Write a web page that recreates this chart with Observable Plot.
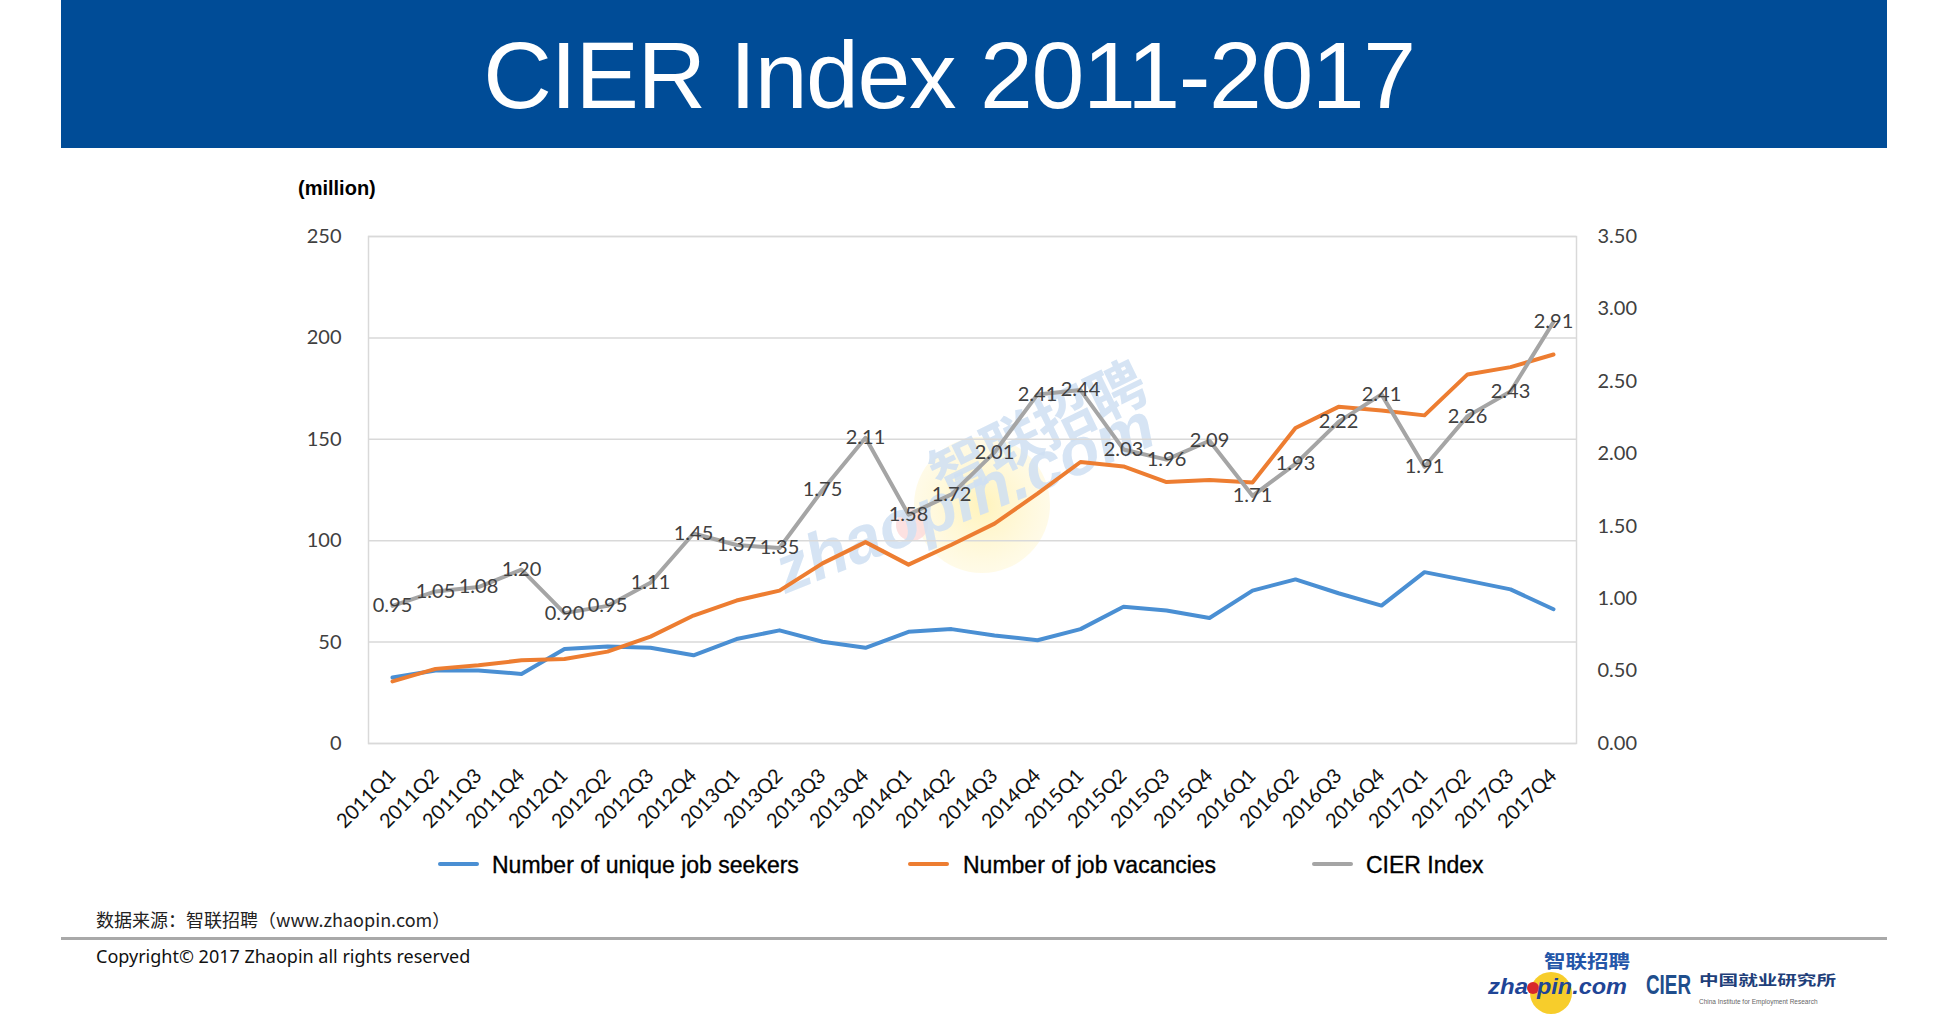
<!DOCTYPE html>
<html>
<head>
<meta charset="utf-8">
<script src="https://cdn.jsdelivr.net/npm/d3@7"></script>
<script src="https://cdn.jsdelivr.net/npm/@observablehq/plot@0.6"></script>
<style>
  html, body { margin: 0; padding: 0; background: #fff; }
  #page { position: relative; width: 1948px; height: 1020px; overflow: hidden; background: #fff; }
  .abs { position: absolute; white-space: nowrap; }
  #bar { left: 61px; top: 0; width: 1826px; height: 148px; background: #004C97; }
  #title { left: 0; top: 28px; width: 1898px; text-align: center; color: #fff;
           font-family: "Liberation Sans", Arial, sans-serif; font-size: 95px; line-height: 95px; letter-spacing: -1.4px; }
  #unit { left: 298px; top: 176px; font-family: "Liberation Sans", Arial, sans-serif; font-weight: bold; font-size: 20px; line-height: 24px; color: #000; }
  #chart { left: 0; top: 200px; }
  .leg-line { position: absolute; height: 4px; border-radius: 2px; top: 862px; width: 41px; }
  .leg-text { position: absolute; top: 851px; font-family: "Liberation Sans", Arial, sans-serif; font-size: 23px; line-height: 28px; color: #000; -webkit-text-stroke: 0.35px #000; }
  #src { left: 96px; top: 906px; font-family: "Noto Sans CJK SC", "Noto Sans", sans-serif; font-size: 18px; line-height: 26px; color: #222; }
  #sep { left: 61px; top: 937px; width: 1826px; height: 3px; background: #a9a9a9; }
  #copy { left: 96px; top: 943px; font-family: "Noto Sans", sans-serif; font-size: 18px; line-height: 26px; color: #111; }
  #wm { left: 0; top: 0; width: 1948px; height: 1020px; pointer-events: none; }
</style>
</head>
<body>
<div id="page">
  <div id="bar" class="abs"></div>
  <div id="title" class="abs">CIER Index 2011-2017</div>
  <svg id="wm" class="abs" width="1948" height="1020">
    <defs>
      <radialGradient id="yg" cx="50%" cy="50%" r="50%">
        <stop offset="0%" stop-color="#fff1b0" stop-opacity="0.85"/>
        <stop offset="100%" stop-color="#fff6d0" stop-opacity="0.5"/>
      </radialGradient>
    </defs>
    <circle cx="982" cy="505" r="68" fill="url(#yg)"/>
    <circle cx="912" cy="525" r="16" fill="#fbd9d9" opacity="0.8"/>
    <text x="1040" y="450" text-anchor="middle" transform="rotate(-26 1040 433)" font-family="Noto Sans CJK SC" font-weight="bold" font-size="58" fill="#cfe0f3" opacity="0.85">智联招聘</text>
    <text x="965" y="520" text-anchor="middle" transform="rotate(-22 965 500)" font-family="Liberation Sans" font-style="italic" font-weight="bold" font-size="66" fill="#cfe0f3" opacity="0.85">zhaopin.com</text>
  </svg>
  <div id="unit" class="abs">(million)</div>
  <div id="chart" class="abs"></div>

  <div class="leg-line" style="left:438px;background:#4A8FD3"></div>
  <div class="leg-text" style="left:492px">Number of unique job seekers</div>
  <div class="leg-line" style="left:908px;background:#ED7D31"></div>
  <div class="leg-text" style="left:963px">Number of job vacancies</div>
  <div class="leg-line" style="left:1312px;background:#A5A5A5"></div>
  <div class="leg-text" style="left:1366px">CIER Index</div>

  <div id="src" class="abs">数据来源：智联招聘（www.zhaopin.com）</div>
  <div id="sep" class="abs"></div>
  <div id="copy" class="abs">Copyright© 2017 Zhaopin all rights reserved</div>

  <svg class="abs" style="left:1440px;top:940px" width="508" height="80">
    <circle cx="111" cy="53" r="21" fill="#f6c814" opacity="0.9"/>
    <text x="104" y="28" font-family="Noto Sans CJK SC" font-weight="bold" font-size="18" fill="#2456a8" textLength="86" lengthAdjust="spacingAndGlyphs">智联招聘</text>
    <text x="48" y="54" font-family="Liberation Sans" font-weight="bold" font-style="italic" font-size="22" fill="#1f4596" textLength="40" lengthAdjust="spacingAndGlyphs">zha</text>
    <circle cx="93" cy="48" r="6" fill="#d8282a"/>
    <text x="97" y="54" font-family="Liberation Sans" font-weight="bold" font-style="italic" font-size="22" fill="#1f4596" textLength="90" lengthAdjust="spacingAndGlyphs">pin.com</text>
    <text x="206" y="54" font-family="Liberation Sans" font-weight="bold" font-size="27" fill="#1f4e8c" textLength="45" lengthAdjust="spacingAndGlyphs">CIER</text>
    <text x="259" y="45" font-family="Noto Sans CJK SC" font-weight="bold" font-size="14" fill="#1f3f7a" textLength="137" lengthAdjust="spacingAndGlyphs">中国就业研究所</text>
    <text x="259" y="64" font-family="Liberation Sans" font-size="6.5" fill="#666">China Institute for Employment Research</text>
  </svg>
</div>
<script>
const quarters = ["2011Q1","2011Q2","2011Q3","2011Q4","2012Q1","2012Q2","2012Q3","2012Q4",
  "2013Q1","2013Q2","2013Q3","2013Q4","2014Q1","2014Q2","2014Q3","2014Q4",
  "2015Q1","2015Q2","2015Q3","2015Q4","2016Q1","2016Q2","2016Q3","2016Q4",
  "2017Q1","2017Q2","2017Q3","2017Q4"];
const seekers = [32.5, 36, 36, 34.3, 46.6, 47.8, 47.2, 43.5,
  51.5, 55.8, 50.2, 47.2, 55.1, 56.4, 53.3, 50.9,
  56.4, 67.4, 65.6, 61.9, 75.4, 80.9, 74.1, 68,
  84.5, 80.3, 76, 66.2];
const vacancies = [30.6, 36.8, 38.6, 41, 41.7, 45.3, 52.7, 63.1,
  70.5, 75.4, 88.8, 99.3, 88.2, 98, 108.4, 123.2,
  138.8, 136.6, 128.9, 129.9, 128.7, 155.6, 166, 164.2,
  161.8, 182, 185.6, 191.8];
const cier = [0.95, 1.05, 1.08, 1.20, 0.90, 0.95, 1.11, 1.45,
  1.37, 1.35, 1.75, 2.11, 1.58, 1.72, 2.01, 2.41,
  2.44, 2.03, 1.96, 2.09, 1.71, 1.93, 2.22, 2.41,
  1.91, 2.26, 2.43, 2.91];
const leftTicks = [0, 50, 100, 150, 200, 250];
const rightTicks = [0, 0.5, 1, 1.5, 2, 2.5, 3, 3.5];
const leftMax = 250, rightMax = 3.5;

const toLeft = v => v * leftMax / rightMax;
const rows = quarters.map((q, i) => ({q, seekers: seekers[i], vacancies: vacancies[i], cier: cier[i]}));

const num = "Lato, 'Open Sans', sans-serif";
const chart = Plot.plot({
  width: 1948,
  height: 680,
  marginLeft: 368,
  marginRight: 372,
  marginTop: 36,
  marginBottom: 137,
  style: {fontFamily: num, fontSize: "20px", color: "#404040", background: "transparent"},
  x: {type: "point", domain: quarters, padding: 0.5, label: null},
  y: {domain: [0, leftMax], label: null},
  marks: [
    Plot.ruleY(leftTicks, {stroke: "#d9d9d9", strokeWidth: 1.5}),
    Plot.frame({stroke: "#d9d9d9", strokeWidth: 1.5}),
    Plot.axisY({ticks: leftTicks, tickSize: 0, tickPadding: 27, fontSize: 20, label: null, fill: "#404040"}),
    Plot.axisY({anchor: "right", ticks: rightTicks.map(toLeft), tickFormat: d => (d * rightMax / leftMax).toFixed(2),
      tickSize: 0, tickPadding: 21, fontSize: 20, label: null, fill: "#404040"}),
    Plot.axisX({tickRotate: -45, tickSize: 0, tickPadding: 29, fontSize: 20, label: null, fill: "#111"}),
    Plot.line(rows, {x: "q", y: "seekers", stroke: "#4A8FD3", strokeWidth: 4, strokeLinejoin: "round", strokeLinecap: "round"}),
    Plot.line(rows, {x: "q", y: "vacancies", stroke: "#ED7D31", strokeWidth: 4, strokeLinejoin: "round", strokeLinecap: "round"}),
    Plot.line(rows, {x: "q", y: d => toLeft(d.cier), stroke: "#A5A5A5", strokeWidth: 4, strokeLinejoin: "round", strokeLinecap: "round"}),
    Plot.text(rows, {x: "q", y: d => toLeft(d.cier), text: d => d.cier.toFixed(2), fontSize: 20, fill: "#404040"})
  ]
});
document.getElementById("chart").appendChild(chart);
</script>
</body>
</html>
